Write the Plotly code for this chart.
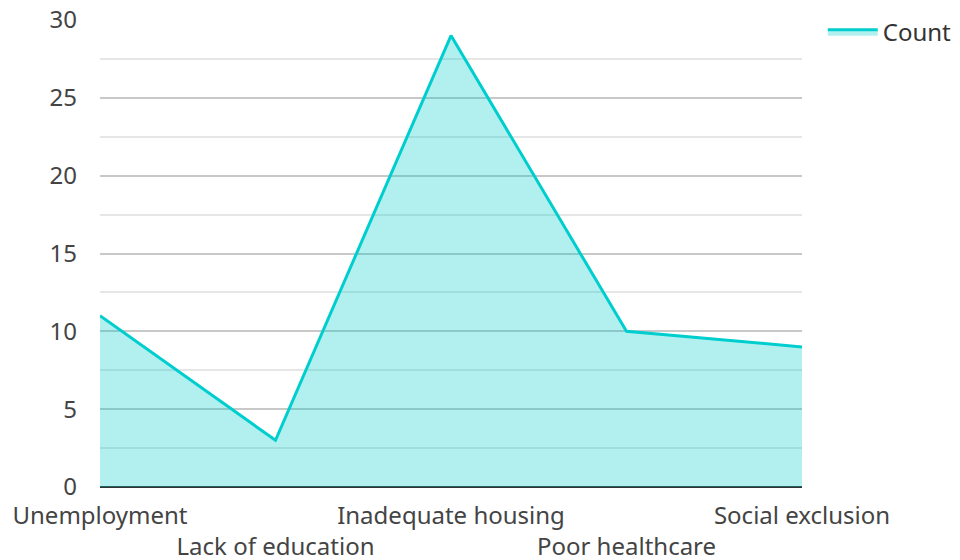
import plotly.graph_objects as go

categories = ["Unemployment", "Lack of education", "Inadequate housing", "Poor healthcare", "Social exclusion"]
counts = [11, 3, 29, 10, 9]
y_ticks = [0, 5, 10, 15, 20, 25, 30]

ticktext = [c if i % 2 == 0 else "<br>" + c for i, c in enumerate(categories)]

fig = go.Figure()
fig.add_trace(go.Scatter(
    x=list(range(len(categories))), y=counts, name="Count",
    mode="lines", fill="tozeroy",
    line=dict(color="rgb(0,206,206)", width=3),
    fillcolor="rgba(0,206,206,0.3)",
))

fig.update_layout(
    width=960, height=560,
    margin=dict(l=100, r=100, t=20, b=73, autoexpand=False),
    paper_bgcolor="white", plot_bgcolor="white",
    font=dict(family="Noto Sans", size=24, color="#444"),
    showlegend=True,
    legend=dict(x=0.951, y=1.022, xanchor="left", yanchor="top",
                font=dict(size=24, color="#333"), itemwidth=50),
    xaxis=dict(
        domain=[0, 702 / 760],
        range=[0, 4], tickmode="array", tickvals=list(range(len(categories))),
        ticktext=ticktext, showgrid=False, zeroline=False, showline=False,
        ticks="", ticklabelstandoff=12, tickangle=0, automargin=False,
    ),
    yaxis=dict(
        range=[0, 30], tickmode="array", tickvals=y_ticks,
        showgrid=True, gridcolor="#c8c8c8", gridwidth=1.5,
        zeroline=True, zerolinecolor="#333", zerolinewidth=2,
        minor=dict(dtick=2.5, showgrid=True, gridcolor="#e6e6e6", gridwidth=1.5),
        ticks="", ticklabelstandoff=22, showline=False, automargin=False,
    ),
)

fig.write_html("out.html")
